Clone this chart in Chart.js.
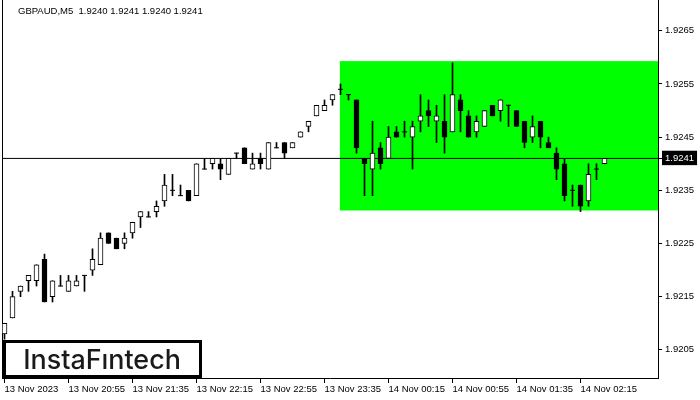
<!DOCTYPE html>
<html>
<head>
<meta charset="utf-8">
<script src="https://cdn.jsdelivr.net/npm/chart.js@4.4.0/dist/chart.umd.min.js"></script>
<style>
    html, body { margin: 0; padding: 0; background: #fff; }
</style>
</head>
<body>
<canvas id="myChart" width="700" height="400"></canvas>
<script>
// GBPAUD M5 candles
const opens  = [1.9208,1.9211,1.9216,1.9218,1.9218,1.9222,1.9215,1.9217,1.9216,1.9217,
                1.9219,1.9220,1.9221,1.9227,1.9226,1.9225,1.9227,1.9230,1.9230,1.9231,
                1.9233,1.9235,1.9234,1.9235,1.9234,1.9239,1.9240,1.9240,1.9238,1.9242,
                1.9243,1.9239,1.9241,1.9239,1.9243,1.9244,1.9243,1.9245,1.9247,1.9249,
                1.9250,1.9252,1.9254,1.9253,1.9252,1.9241,1.9239,1.9243,1.9241,1.9246,
                1.9246,1.9245,1.9248,1.9250,1.9248,1.9248,1.9246,1.9252,1.9249,1.9246,
                1.9247,1.9251,1.9250,1.9251,1.9250,1.9248,1.9245,1.9248,1.9244,1.9242,
                1.9240,1.9235,1.9236,1.9233,1.9239,1.9240];
const highs  = [1.9210,1.9216,1.9217,1.9219,1.9221,1.9223,1.9218,1.9219,1.9219,1.9219,
                1.9219,1.9224,1.9227,1.9227,1.9226,1.9227,1.9229,1.9231,1.9231,1.9233,
                1.9238,1.9238,1.9236,1.9235,1.9240,1.9241,1.9241,1.9241,1.9241,1.9242,
                1.9243,1.9242,1.9242,1.9244,1.9244,1.9244,1.9244,1.9246,1.9248,1.9251,
                1.9252,1.9253,1.9255,1.9253,1.9252,1.9241,1.9248,1.9244,1.9247,1.9247,
                1.9248,1.9248,1.9253,1.9252,1.9251,1.9253,1.9259,1.9253,1.9250,1.9249,
                1.9250,1.9251,1.9252,1.9251,1.9250,1.9248,1.9249,1.9248,1.9245,1.9243,
                1.9241,1.9236,1.9236,1.9240,1.9240,1.9241];
const lows   = [1.9207,1.9211,1.9215,1.9216,1.9217,1.9214,1.9214,1.9217,1.9216,1.9217,
                1.9216,1.9219,1.9221,1.9225,1.9224,1.9224,1.9226,1.9228,1.9230,1.9230,
                1.9232,1.9234,1.9234,1.9233,1.9234,1.9239,1.9239,1.9237,1.9238,1.9241,
                1.9240,1.9239,1.9239,1.9239,1.9243,1.9241,1.9243,1.9245,1.9246,1.9249,
                1.9250,1.9251,1.9253,1.9252,1.9242,1.9234,1.9234,1.9239,1.9241,1.9245,
                1.9245,1.9239,1.9246,1.9247,1.9244,1.9242,1.9246,1.9246,1.9245,1.9245,
                1.9247,1.9249,1.9248,1.9247,1.9247,1.9243,1.9244,1.9243,1.9243,1.9237,
                1.9233,1.9232,1.9231,1.9232,1.9237,1.9240];
const closes = [1.9210,1.9215,1.9217,1.9219,1.9221,1.9214,1.9218,1.9217,1.9218,1.9218,
                1.9219,1.9222,1.9226,1.9225,1.9224,1.9226,1.9229,1.9231,1.9230,1.9232,
                1.9236,1.9235,1.9234,1.9233,1.9240,1.9239,1.9241,1.9239,1.9241,1.9242,
                1.9240,1.9240,1.9240,1.9244,1.9243,1.9242,1.9244,1.9246,1.9248,1.9251,
                1.9251,1.9253,1.9254,1.9253,1.9243,1.9240,1.9242,1.9240,1.9245,1.9245,
                1.9246,1.9247,1.9249,1.9249,1.9249,1.9245,1.9253,1.9250,1.9245,1.9248,
                1.9250,1.9249,1.9252,1.9251,1.9247,1.9244,1.9247,1.9245,1.9243,1.9239,
                1.9234,1.9235,1.9232,1.9238,1.9239,1.9241];

const time_ticks  = [0, 8, 16, 24, 32, 40, 48, 56, 64, 72];
const time_labels = ["13 Nov 2023", "13 Nov 20:55", "13 Nov 21:35", "13 Nov 22:15", "13 Nov 22:55",
                     "13 Nov 23:35", "14 Nov 00:15", "14 Nov 00:55", "14 Nov 01:35", "14 Nov 02:15"];
const price_ticks = [1.9205, 1.9215, 1.9225, 1.9235, 1.9245, 1.9255, 1.9265];
const last_price  = 1.9241;

// pattern zone (rectangle)
const zone_start  = 41.9;
const zone_top    = 1.92592;
const zone_bottom = 1.92312;

const header_text = "GBPAUD,M5  1.9240 1.9241 1.9240 1.9241";
const logo_text   = "InstaFıntech";

const x_min = -0.3125, x_max = 81.6875;
const y_min = 1.91997, y_max = 1.92708;
const font_name = "'Liberation Sans', Arial, sans-serif";

let wicks = [], bodies = [], body_colors = [], dojis = [];
for (let i = 0; i < opens.length; i++) {
    wicks.push({x: i, y: [lows[i], highs[i]]});
    if (opens[i] === closes[i]) {
        dojis.push({x: i, y: opens[i]});
    } else {
        bodies.push({x: i, y: [opens[i], closes[i]]});
        body_colors.push(closes[i] > opens[i] ? "#ffffff" : "#000000");
    }
}

const overlay = {
    id: "overlay",
    afterDraw(chart) {
        const ctx = chart.ctx;
        ctx.save();
        ctx.fillStyle = "#000";
        ctx.font = "9.5px " + font_name;
        ctx.textBaseline = "middle";
        ctx.textAlign = "left";
        ctx.fillText(header_text, 18, 11);

        // logo box
        ctx.fillStyle = "#fff";
        ctx.fillRect(3, 340, 199, 38);
        ctx.lineWidth = 3;
        ctx.strokeStyle = "#000";
        ctx.strokeRect(4.5, 341.5, 196, 35);
        let size = 28;
        ctx.font = "500 " + size + "px Inter, Lato, sans-serif";
        let w = ctx.measureText(logo_text).width;
        size = size * 158 / w;
        ctx.font = "500 " + size.toFixed(1) + "px Inter, Lato, sans-serif";
        ctx.fillStyle = "#1a1a1a";
        ctx.textAlign = "center";
        ctx.textBaseline = "alphabetic";
        ctx.fillText(logo_text, 102, 369);
        ctx.restore();
    }
};

const ctx = document.getElementById("myChart");
const config = {
    type: "bar",
    data: {
        datasets: [
            {
                type: "line",
                data: [{x: zone_start, y: zone_top}, {x: x_max, y: zone_top}],
                borderColor: "#00ff00",
                backgroundColor: "#00ff00",
                borderWidth: 1,
                pointRadius: 0,
                fill: {value: zone_bottom},
                order: 10,
            },
            {
                type: "line",
                data: [{x: x_min, y: last_price}, {x: x_max, y: last_price}],
                borderColor: "#000",
                borderWidth: 1,
                pointRadius: 0,
                fill: false,
                order: 8,
            },
            {
                data: wicks,
                backgroundColor: "#000",
                barThickness: 1,
                grouped: false,
                order: 6,
            },
            {
                data: bodies,
                backgroundColor: body_colors,
                borderColor: "#000",
                borderWidth: 1,
                borderSkipped: false,
                barThickness: 5,
                grouped: false,
                order: 4,
            },
            {
                type: "line",
                data: dojis,
                showLine: false,
                pointStyle: "line",
                pointRadius: 2.5,
                pointHoverRadius: 2.5,
                pointBorderWidth: 1,
                pointBorderColor: "#000",
                order: 2,
            },
        ]
    },
    options: {
        responsive: false,
        animation: false,
        layout: {autoPadding: false, padding: {left: 2, top: 0, right: 0, bottom: 0}},
        plugins: {
            legend: {display: false},
            tooltip: {enabled: false},
        },
        scales: {
            x: {
                type: "linear",
                min: x_min,
                max: x_max,
                offset: false,
                grid: {offset: false, drawOnChartArea: false, color: "#000", tickLength: 5},
                border: {display: true, color: "#000"},
                ticks: {
                    align: "start",
                    maxRotation: 0,
                    autoSkip: false,
                    padding: 1,
                    color: "#000",
                    font: {family: font_name, size: 9.5},
                    callback: (v, i) => time_labels[i],
                },
                afterBuildTicks: (scale) => {
                    scale.ticks = time_ticks.map(v => ({value: v}));
                },
                afterFit: (scale) => {
                    scale.height = 22;
                    scale.paddingLeft = 0;
                    scale.paddingRight = 0;
                },
            },
            y: {
                position: "right",
                min: y_min,
                max: y_max,
                beginAtZero: false,
                grid: {
                    drawOnChartArea: false,
                    tickLength: 4,
                    color: "#000",
                },
                border: {display: true, color: "#000"},
                ticks: {
                    autoSkip: false,
                    padding: 3,
                    font: {family: font_name, size: 9.5},
                    color: (c) => (c.tick && c.tick.value === last_price) ? "#fff" : "#000",
                    showLabelBackdrop: true,
                    backdropColor: (c) => (c.tick && c.tick.value === last_price) ? "#000" : "rgba(0,0,0,0)",
                    backdropPadding: {top: 2, bottom: 1, left: 3, right: 3},
                    callback: (v) => v.toFixed(4),
                },
                afterBuildTicks: (scale) => {
                    let list = price_ticks.concat([last_price]).sort((a, b) => a - b);
                    scale.ticks = list.map(v => ({value: v}));
                },
                afterFit: (scale) => {
                    scale.width = 42;
                    scale.paddingTop = 0;
                    scale.paddingBottom = 0;
                },
            },
            y_left: {
                position: "left",
                display: true,
                grid: {drawOnChartArea: false, drawTicks: false},
                border: {display: true, color: "#000"},
                ticks: {display: false},
                afterFit: (scale) => {
                    scale.width = 0;
                    scale.paddingTop = 0;
                    scale.paddingBottom = 0;
                },
            },
        },
    },
    plugins: [overlay],
};
let chart = new Chart(ctx, config);
</script>
</body>
</html>
